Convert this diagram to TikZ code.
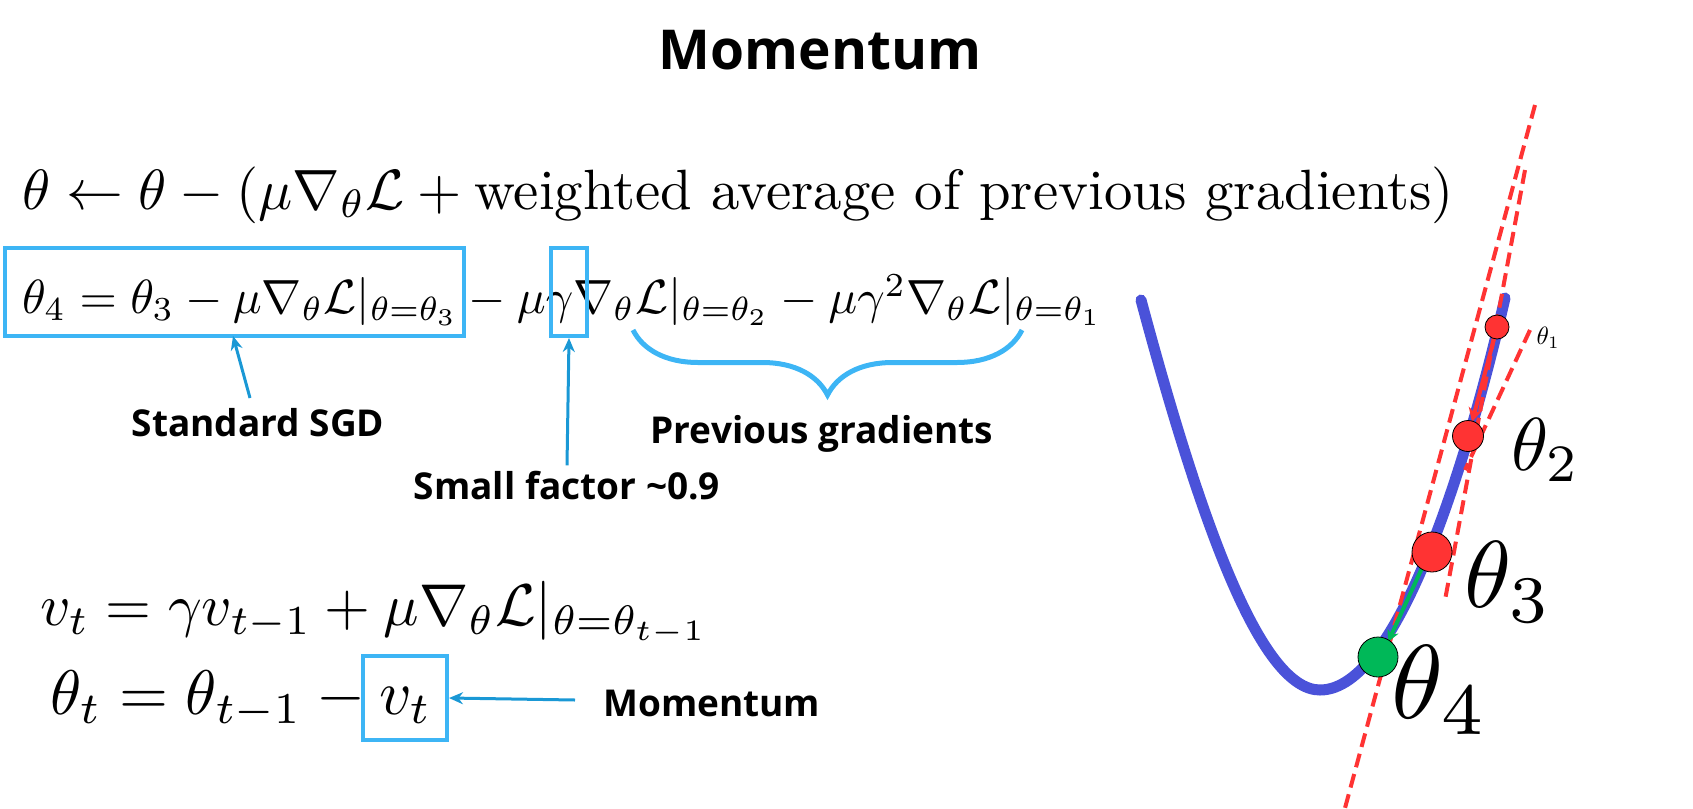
\documentclass[tikz,border=0pt]{standalone}
\usepackage{amsmath}
\usepackage{graphicx}
\usepackage{fontspec}
\setsansfont{Open Sans}
\usetikzlibrary{decorations.pathreplacing,arrows.meta}
\definecolor{boxb}{HTML}{3DB5F5}
\definecolor{arrb}{HTML}{1A98D5}
\definecolor{curveb}{HTML}{4A52D9}
\definecolor{redd}{HTML}{FF3333}
\definecolor{greend}{HTML}{00B858}
\tikzset{
  lbl/.style={font=\sffamily\bfseries\fontsize{37}{42}\selectfont, inner sep=0},
  bbox/.style={draw=boxb, line width=4pt},
  callout/.style={draw=arrb, line width=3pt, -{Stealth[length=14pt,width=12pt]}},
  eq/.style={inner sep=0, anchor=west},
  dot/.style={circle, draw=black, line width=0.8pt, inner sep=0},
  tang/.style={draw=redd, line width=4pt, dash pattern=on 14pt off 7pt},
}
\begin{document}
\begin{tikzpicture}[x=1pt,y=-1pt]
\path[use as bounding box] (0,0) rectangle (1693,808);
\node[font=\sffamily\bfseries\fontsize{55}{62}\selectfont] (title) at (820,50) {Momentum};
\node[eq] (e1) at (22,195) {\scalebox{5.68}{$\theta \leftarrow \theta - (\mu\nabla_\theta\mathcal{L} + \text{weighted average of previous gradients})$}};
\node[eq] (e2) at (22,300) {\scalebox{4.8}{$\theta_4 = \theta_3 - \mu\nabla_\theta\mathcal{L}|_{\theta=\theta_3} - \mu\gamma\nabla_\theta\mathcal{L}|_{\theta=\theta_2} - \mu\gamma^2\nabla_\theta\mathcal{L}|_{\theta=\theta_1}$}};
\node[bbox, minimum width=459pt, minimum height=88pt, anchor=north west] (b1) at (3,246) {};
\node[bbox, minimum width=36pt, minimum height=88pt, anchor=north west] (b2) at (549,246) {};
\draw[draw=boxb, line width=5pt, decorate, decoration={brace, mirror, amplitude=65pt}] (633,330) -- (1022,330) coordinate[midway] (bm);
\node[lbl] (sgd) at (258,423) {Standard SGD};
\node[lbl] (small) at (567,486) {Small factor \textasciitilde0.9};
\node[lbl] (prev) at (822,434) {Previous gradients};
\draw[callout] (250,398) coordinate (s1) -- (233,336);
\draw[callout] (small.north) ++(0,-6) coordinate (s2) -- (b2.south);
\node[eq] (e3) at (40,613) {\scalebox{5.9}{$v_t = \gamma v_{t-1} + \mu\nabla_\theta\mathcal{L}|_{\theta=\theta_{t-1}}$}};
\node[eq] (e4) at (50,700) {\scalebox{6.3}{$\theta_t = \theta_{t-1} - v_t$}};
\node[bbox, minimum width=84pt, minimum height=84pt] (b3) at (405,698) {};
\node[lbl, anchor=west] (mom) at (603,703) {Momentum};
\draw[callout] (575,700) coordinate (s3) -- (b3.east);
% curve
\draw[curveb, line width=11pt, line cap=round] (1141,300) .. controls (1200,520) and (1260,690) .. (1320,690) .. controls (1400,690) and (1470,450) .. (1505,298);
\draw[tang] (1535,105) -- (1345,808);
\draw[tang] (1525,170) -- (1445,600);
\draw[tang] (1530,330) -- (1465,470);
\draw[redd, line width=4pt, -{Stealth[length=14pt,width=14pt]}] (1495,335) -- (1472,422);
\draw[greend, line width=4pt, -{Stealth[length=12pt,width=12pt]}] (1422,568) -- (1388,642);
\node[dot, fill=redd, minimum size=24pt] (t1) at (1497,327) {};
\node[dot, fill=redd, minimum size=31pt] (t2) at (1468,436) {};
\node[dot, fill=redd, minimum size=40pt] (t3) at (1432,552) {};
\node[dot, fill=greend, minimum size=40pt] (t4) at (1378,657) {};
\node (l1) at (1548,338) {\scalebox{2.5}{$\theta_1$}};
\node (l2) at (1546,450) {\scalebox{7.5}{$\theta_2$}};
\node (l3) at (1508,582) {\scalebox{9.5}{$\theta_3$}};
\node (l4) at (1440,690) {\scalebox{10.5}{$\theta_4$}};
\end{tikzpicture}
\end{document}
